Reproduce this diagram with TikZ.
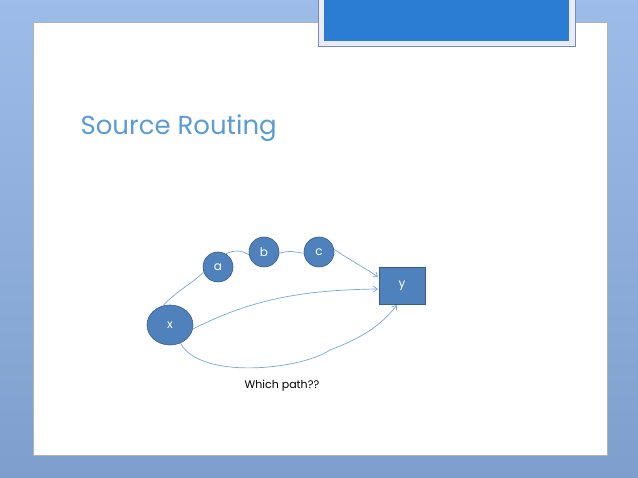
\documentclass[tikz,border=0pt]{standalone}
\usepackage{fontspec}
\setmainfont{Poppins}
\usetikzlibrary{arrows.meta,shapes.geometric}
\definecolor{bgblue}{RGB}{140,176,228}
\definecolor{nodeblue}{RGB}{79,129,189}
\definecolor{nodeedge}{RGB}{56,93,138}
\definecolor{linkblue}{RGB}{120,165,220}
\definecolor{titleblue}{RGB}{91,155,213}
\definecolor{topblue}{RGB}{43,124,211}
\tikzset{
 circnode/.style={circle,fill=nodeblue,draw=nodeedge,line width=0.6pt,text=white,inner sep=0pt,font=\fontsize{12}{12}\selectfont},
 link/.style={draw=linkblue,line width=0.7pt},
 arr/.style={link,-{Straight Barb[length=4pt,width=6pt]}}
}
\begin{document}
\begin{tikzpicture}[x=1pt,y=-1pt]
\useasboundingbox (0,0) rectangle (638,478);
\shade[top color=bgblue!85!white,bottom color=bgblue!90!black] (0,0) rectangle (638,478);
\fill[white] (33,22) rectangle (607,455);
\draw[gray!60,line width=0.8pt] (33,22) rectangle (607,455);
\fill[white!92!blue] (318,-2) rectangle (575,46);
\draw[nodeedge!70,line width=0.6pt] (318,-2) rectangle (575,46);
\fill[topblue] (324,-2) rectangle (569,41);
\node[anchor=west,text=titleblue,font=\fontsize{26}{26}\selectfont] (title) at (77,128) {Source Routing};
\node[circnode,ellipse,minimum width=46pt,minimum height=40pt] (x) at (170,325) {x};
\node[circnode,minimum size=30pt] (a) at (218,267) {a};
\node[circnode,minimum size=30pt] (b) at (264,252) {b};
\node[circnode,minimum size=30pt] (c) at (319,252) {c};
\node[fill=nodeblue,draw=nodeedge,line width=0.6pt,text=white,minimum width=46pt,minimum height=37pt,font=\fontsize{12}{12}\selectfont] (y) at (402,285.5) {y};
\coordinate (y1) at (378,277);
\coordinate (y2) at (378,289);
\coordinate (y3) at (397,305);
\draw[link] (x.110) .. controls (178,290) and (190,285) .. (a.200);
\draw[link] (a.60) .. controls (235,250) and (240,250) .. (b.190);
\draw[link] (b.-5) .. controls (290,250) and (295,252) .. (c.185);
\draw[arr] (c.10) .. controls (350,260) and (365,268) .. (y1);
\draw[arr] (x.-10) .. controls (250,300) and (300,290) .. (y2);
\draw[arr] (x.-60) .. controls (200,380) and (300,370) .. (330,350) .. controls (370,335) and (385,320) .. (y3);
\node[font=\fontsize{11}{11}\selectfont] (q) at (282,386) {Which path??};
\end{tikzpicture}
\end{document}
